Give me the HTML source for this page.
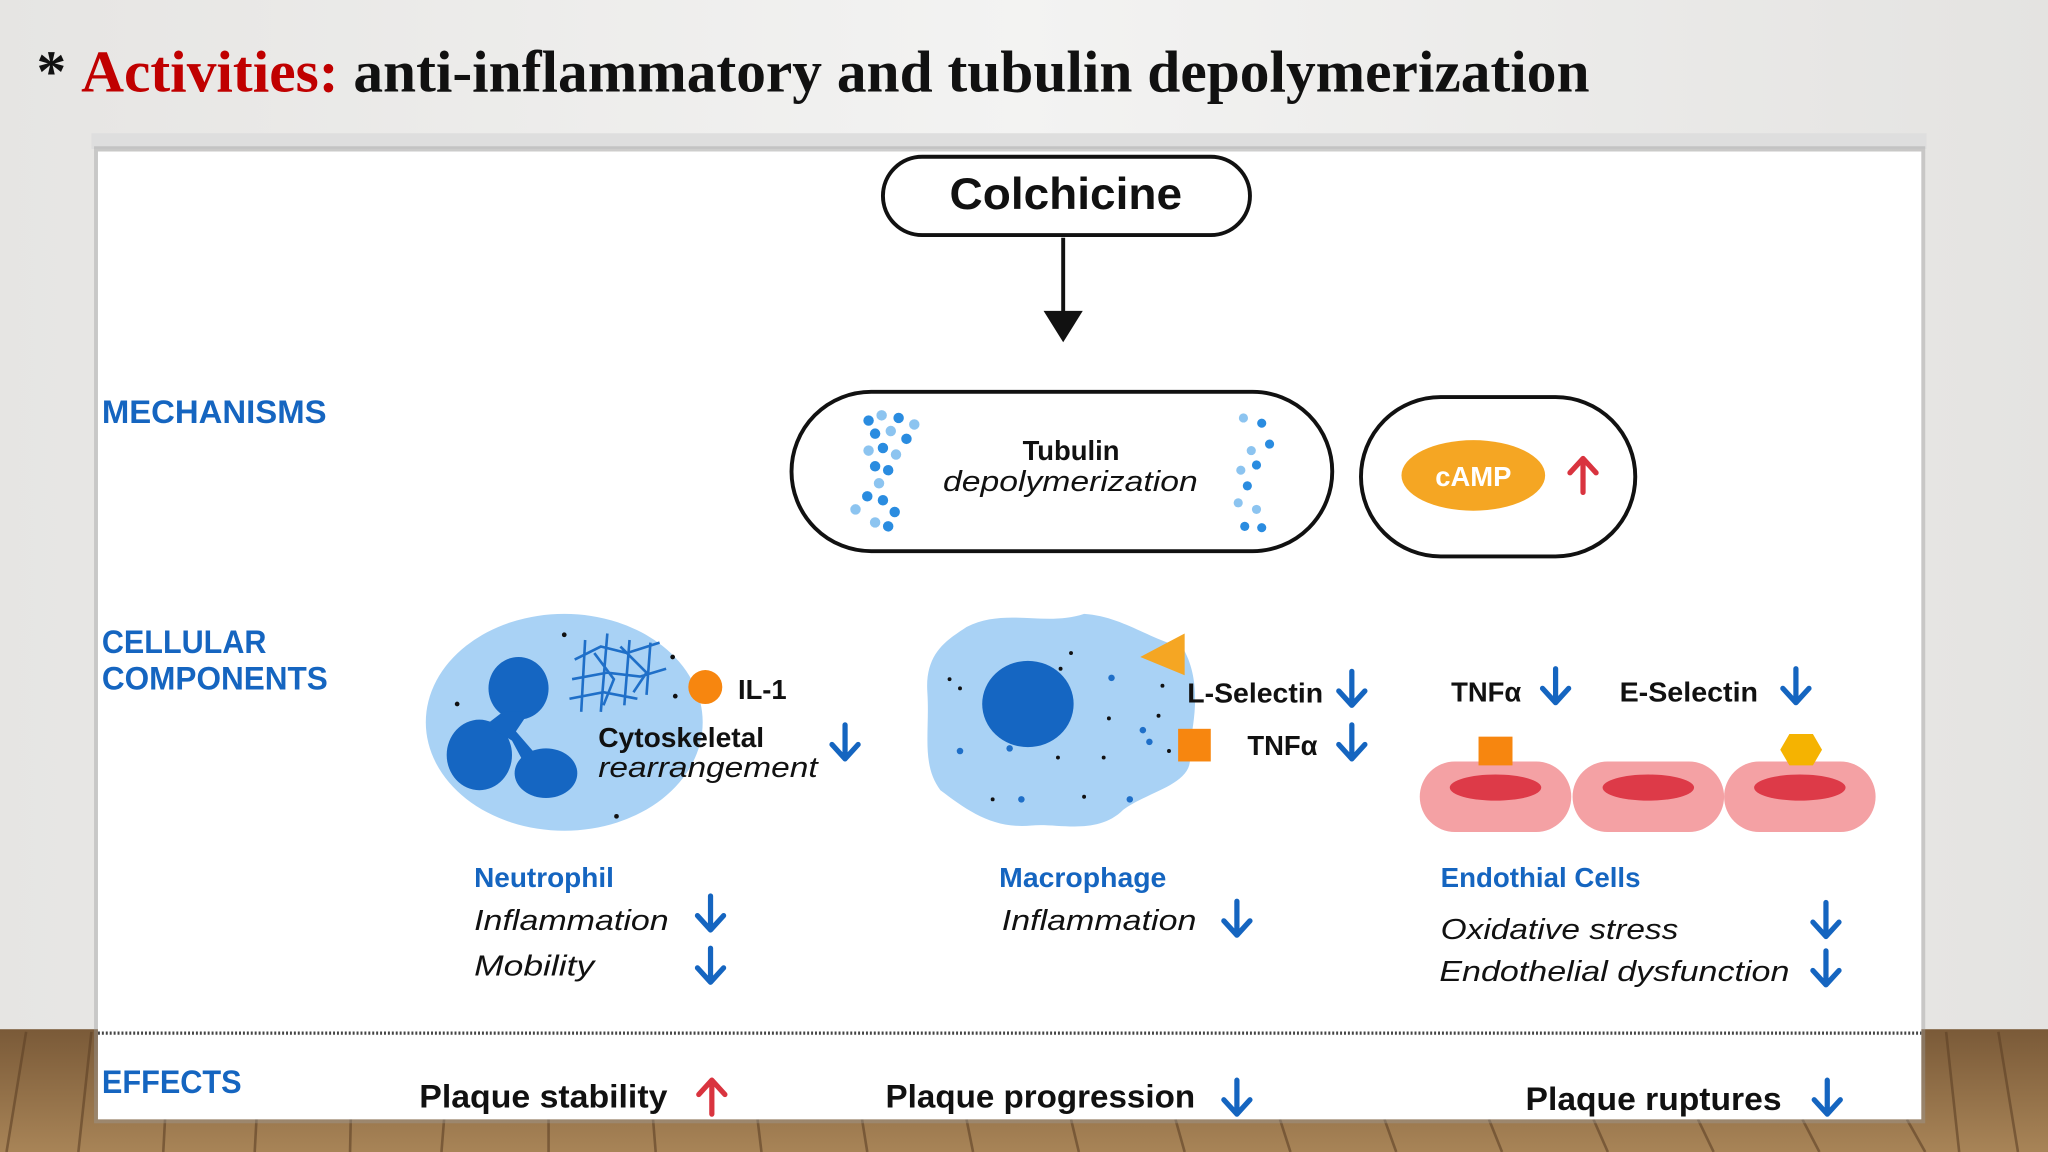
<!DOCTYPE html>
<html><head><meta charset="utf-8"><style>
html,body{margin:0;padding:0;width:2048px;height:1152px;overflow:hidden;background:#eee}
svg{display:block}
</style></head><body>
<svg width="2048" height="1152" viewBox="0 0 1568 882" xmlns="http://www.w3.org/2000/svg" font-family="Liberation Sans, sans-serif">
<defs>
<linearGradient id="wall" x1="0" y1="0" x2="1" y2="0">
<stop offset="0" stop-color="#e6e5e3"/><stop offset="0.5" stop-color="#f3f3f2"/><stop offset="1" stop-color="#e4e3e1"/>
</linearGradient>
<linearGradient id="floor" x1="0" y1="0" x2="0" y2="1">
<stop offset="0" stop-color="#7a5a38"/><stop offset="1" stop-color="#a88457"/>
</linearGradient>
<g id="dn"><path d="M0 0V26M-10 15L0 26L10 15" fill="none" stroke="#1565c0" stroke-width="4" stroke-linecap="round" stroke-linejoin="round"/></g>
<g id="up"><path d="M0 26V0M-10 11L0 0L10 11" fill="none" stroke="#d9343f" stroke-width="4" stroke-linecap="round" stroke-linejoin="round"/></g>
</defs>
<rect width="1568" height="882" fill="url(#wall)"/>
<rect y="788" width="1568" height="94" fill="url(#floor)"/>
<g stroke="#5e4126" stroke-width="2" opacity="0.6">
<path d="M20 790L5 882M70 790L60 882M130 790L125 882M200 790L195 882M270 790L268 882M1490 790L1500 882M1530 790L1545 882M340 857L338 882M420 857L420 882M500 857L502 882M580 857L583 882M660 857L664 882M740 857L745 882M820 857L826 882M900 857L907 882M980 857L988 882M1060 857L1069 882M1140 857L1150 882M1220 857L1231 882M1300 857L1312 882M1380 857L1393 882M1460 857L1474 882"/>
</g>
<rect x="70" y="102" width="1405" height="12" fill="#dedede"/>
<rect x="72" y="112" width="1402" height="748" fill="#9a9a9a" opacity="0.4"/>
<rect x="75" y="116" width="1396" height="741" fill="#fff"/>
<text x="28" y="70" font-family="Liberation Serif, serif" font-weight="bold" font-size="45" fill="#111" textLength="1189" lengthAdjust="spacingAndGlyphs">* <tspan fill="#c00000">Activities:</tspan> anti-inflammatory and tubulin depolymerization</text>

<rect x="676" y="120" width="281" height="60" rx="30" fill="#fff" stroke="#111" stroke-width="3"/>
<text x="727" y="160" font-weight="bold" font-size="34" fill="#111" textLength="178" lengthAdjust="spacingAndGlyphs">Colchicine</text>
<path d="M814 182V244" stroke="#111" stroke-width="3"/>
<path d="M799 238L829 238L814 262Z" fill="#111"/>

<g font-weight="bold" fill="#1565c0" font-size="25">
<text x="78" y="324" textLength="172" lengthAdjust="spacingAndGlyphs">MECHANISMS</text>
<text x="78" y="500" textLength="126" lengthAdjust="spacingAndGlyphs">CELLULAR</text>
<text x="78" y="528" textLength="173" lengthAdjust="spacingAndGlyphs">COMPONENTS</text>
<text x="78" y="837" textLength="107" lengthAdjust="spacingAndGlyphs">EFFECTS</text>
</g>

<rect x="606" y="300" width="414" height="122" rx="61" fill="#fff" stroke="#111" stroke-width="3"/>
<text x="820" y="352" text-anchor="middle" font-weight="bold" font-size="21" fill="#111">Tubulin</text>
<text x="722" y="376" font-style="italic" font-size="22" fill="#111" textLength="195" lengthAdjust="spacingAndGlyphs">depolymerization</text>
<g fill="#2a8ce0">
<circle cx="665" cy="322" r="4"/><circle cx="675" cy="318" r="4" fill="#8cc4f0"/><circle cx="688" cy="320" r="4"/><circle cx="700" cy="325" r="4" fill="#8cc4f0"/><circle cx="670" cy="332" r="4"/><circle cx="682" cy="330" r="4" fill="#8cc4f0"/><circle cx="694" cy="336" r="4"/><circle cx="665" cy="345" r="4" fill="#8cc4f0"/><circle cx="676" cy="343" r="4"/><circle cx="686" cy="348" r="4" fill="#8cc4f0"/><circle cx="670" cy="357" r="4"/><circle cx="680" cy="360" r="4"/><circle cx="673" cy="370" r="4" fill="#8cc4f0"/><circle cx="664" cy="380" r="4"/><circle cx="655" cy="390" r="4" fill="#8cc4f0"/><circle cx="676" cy="383" r="4"/><circle cx="685" cy="392" r="4"/><circle cx="670" cy="400" r="4" fill="#8cc4f0"/><circle cx="680" cy="403" r="4"/>
<circle cx="952" cy="320" r="3.5" fill="#8cc4f0"/><circle cx="966" cy="324" r="3.5"/><circle cx="972" cy="340" r="3.5"/><circle cx="958" cy="345" r="3.5" fill="#8cc4f0"/><circle cx="950" cy="360" r="3.5" fill="#8cc4f0"/><circle cx="962" cy="356" r="3.5"/><circle cx="955" cy="372" r="3.5"/><circle cx="948" cy="385" r="3.5" fill="#8cc4f0"/><circle cx="962" cy="390" r="3.5" fill="#8cc4f0"/><circle cx="953" cy="403" r="3.5"/><circle cx="966" cy="404" r="3.5"/>
</g>

<rect x="1042" y="304" width="210" height="122" rx="61" fill="#fff" stroke="#111" stroke-width="3"/>
<ellipse cx="1128" cy="364" rx="55" ry="27" fill="#f5a623"/>
<text x="1128" y="372" text-anchor="middle" font-weight="bold" font-size="21" fill="#fff">cAMP</text>
<use href="#up" x="1212" y="351"/>

<!-- neutrophil -->
<ellipse cx="432" cy="553" rx="106" ry="83" fill="#a9d2f5"/>
<g fill="#1566c2">
<ellipse cx="397" cy="527" rx="23" ry="24"/>
<ellipse cx="367" cy="578" rx="25" ry="27"/>
<ellipse cx="418" cy="592" rx="24" ry="19"/>
<path d="M385 545L372 555L392 567L400 582L408 575L395 560L405 545Z"/>
</g>
<g stroke="#1f6fc8" stroke-width="2" fill="none">
<path d="M440 505L460 495L480 500L505 492M438 520L465 515L490 518L510 512M436 535L462 530L488 535M448 490L445 545M465 485L460 545M482 490L478 540M498 492L495 532M455 500L470 520L462 540M475 495L495 515L485 530"/>
</g>
<g fill="#111"><circle cx="432" cy="486" r="1.8"/><circle cx="515" cy="503" r="1.8"/><circle cx="517" cy="533" r="1.8"/><circle cx="472" cy="625" r="1.8"/><circle cx="350" cy="539" r="1.8"/></g>
<circle cx="540" cy="526" r="13" fill="#f7860f"/>
<text x="565" y="535" font-weight="bold" font-size="21" fill="#111">IL-1</text>
<text x="458" y="572" font-weight="bold" font-size="21" fill="#111" textLength="127" lengthAdjust="spacingAndGlyphs">Cytoskeletal</text>
<text x="458" y="595" font-style="italic" font-size="22" fill="#111" textLength="168" lengthAdjust="spacingAndGlyphs">rearrangement</text>
<use href="#dn" x="647" y="555"/>

<!-- macrophage -->
<path d="M740 480C770 465 800 480 830 470C860 472 880 490 905 495C920 520 915 550 910 575C918 600 880 605 860 620C840 640 810 630 790 632C760 635 740 620 720 605C705 585 712 560 710 530C708 500 725 490 740 480Z" fill="#a9d2f5"/>
<ellipse cx="787" cy="539" rx="35" ry="33" fill="#1566c2"/>
<g fill="#1f6fc8"><circle cx="851" cy="519" r="2.5"/><circle cx="875" cy="559" r="2.5"/><circle cx="735" cy="575" r="2.5"/><circle cx="773" cy="573" r="2.5"/><circle cx="782" cy="612" r="2.5"/><circle cx="865" cy="612" r="2.5"/><circle cx="880" cy="568" r="2.5"/></g>
<g fill="#111"><circle cx="727" cy="520" r="1.5"/><circle cx="735" cy="527" r="1.5"/><circle cx="820" cy="500" r="1.5"/><circle cx="812" cy="512" r="1.5"/><circle cx="849" cy="550" r="1.5"/><circle cx="887" cy="548" r="1.5"/><circle cx="890" cy="525" r="1.5"/><circle cx="810" cy="580" r="1.5"/><circle cx="830" cy="610" r="1.5"/><circle cx="760" cy="612" r="1.5"/><circle cx="845" cy="580" r="1.5"/><circle cx="895" cy="575" r="1.5"/></g>
<path d="M873 503L907 485L907 517Z" fill="#f5a623"/>
<rect x="902" y="558" width="25" height="25" fill="#f7860f"/>
<text x="909" y="538" font-weight="bold" font-size="21" fill="#111" textLength="104" lengthAdjust="spacingAndGlyphs">L-Selectin</text>
<use href="#dn" x="1035" y="514"/>
<text x="955" y="578" font-weight="bold" font-size="21" fill="#111">TNFα</text>
<use href="#dn" x="1035" y="555"/>

<!-- endothelial -->
<text x="1111" y="537" font-weight="bold" font-size="21" fill="#111">TNFα</text>
<use href="#dn" x="1191" y="512"/>
<text x="1240" y="537" font-weight="bold" font-size="21" fill="#111" textLength="106" lengthAdjust="spacingAndGlyphs">E-Selectin</text>
<use href="#dn" x="1375" y="512"/>
<g fill="#f4a1a4">
<rect x="1087" y="583" width="116" height="54" rx="27"/>
<rect x="1204" y="583" width="116" height="54" rx="27"/>
<rect x="1320" y="583" width="116" height="54" rx="27"/>
</g>
<g fill="#dd3a48">
<ellipse cx="1145" cy="603" rx="35" ry="10"/><ellipse cx="1262" cy="603" rx="35" ry="10"/><ellipse cx="1378" cy="603" rx="35" ry="10"/>
</g>
<rect x="1132" y="564" width="26" height="22" fill="#f7860f"/>
<path d="M1370 562L1388 562L1395 574L1388 586L1370 586L1363 574Z" fill="#f5b301"/>

<g font-size="22">
<text x="363" y="679" font-weight="bold" fill="#1565c0" font-size="21" textLength="107" lengthAdjust="spacingAndGlyphs">Neutrophil</text>
<text x="363" y="712" font-style="italic" fill="#111" textLength="149" lengthAdjust="spacingAndGlyphs">Inflammation</text>
<text x="363" y="747" font-style="italic" fill="#111" textLength="92" lengthAdjust="spacingAndGlyphs">Mobility</text>
<text x="765" y="679" font-weight="bold" fill="#1565c0" font-size="21" textLength="128" lengthAdjust="spacingAndGlyphs">Macrophage</text>
<text x="767" y="712" font-style="italic" fill="#111" textLength="149" lengthAdjust="spacingAndGlyphs">Inflammation</text>
<text x="1103" y="679" font-weight="bold" fill="#1565c0" font-size="21" textLength="153" lengthAdjust="spacingAndGlyphs">Endothial Cells</text>
<text x="1103" y="719" font-style="italic" fill="#111" textLength="182" lengthAdjust="spacingAndGlyphs">Oxidative stress</text>
<text x="1102" y="751" font-style="italic" fill="#111" textLength="268" lengthAdjust="spacingAndGlyphs">Endothelial dysfunction</text>
</g>
<use href="#dn" x="544" y="686"/><use href="#dn" x="544" y="726"/>
<use href="#dn" x="947" y="690"/>
<use href="#dn" x="1398" y="691"/><use href="#dn" x="1398" y="728"/>

<path d="M75 791H1471" stroke="#444" stroke-width="2.5" stroke-dasharray="1.5 1.5"/>
<g font-weight="bold" font-size="25" fill="#111">
<text x="321" y="848" textLength="190" lengthAdjust="spacingAndGlyphs">Plaque stability</text>
<text x="678" y="848" textLength="237" lengthAdjust="spacingAndGlyphs">Plaque progression</text>
<text x="1168" y="850" textLength="196" lengthAdjust="spacingAndGlyphs">Plaque ruptures</text>
</g>
<use href="#up" x="545" y="827"/>
<use href="#dn" x="947" y="827"/>
<use href="#dn" x="1399" y="827"/>
</svg>
</body></html>
